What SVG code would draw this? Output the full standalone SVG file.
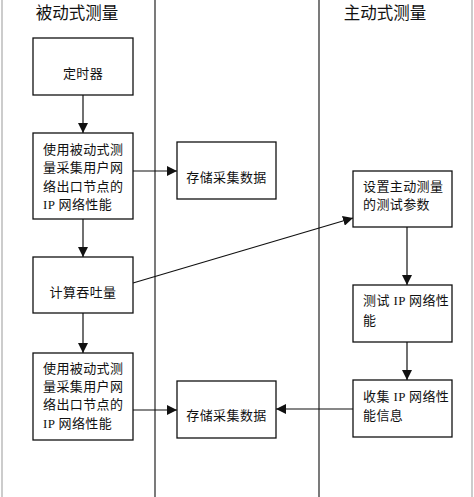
<svg xmlns="http://www.w3.org/2000/svg" width="474" height="497" viewBox="0 0 474 497">
<style>
.box{fill:#fff;stroke:#111;stroke-width:1.3}
.t{font-family:"Liberation Serif","Noto Sans CJK SC",serif;font-size:13px;fill:#111;letter-spacing:0.4px}
.h{font-family:"Noto Sans CJK SC",sans-serif;font-size:16.5px;fill:#111;text-anchor:middle}
.lane{stroke:#222;stroke-width:1.2}
.c{stroke:#111;stroke-width:1.2;fill:none;marker-end:url(#ah)}
</style>
<defs>
<marker id="ah" viewBox="0 0 10 10" refX="10" refY="5" markerWidth="10" markerHeight="10" markerUnits="userSpaceOnUse" orient="auto">
<path d="M0,0 L10,5 L0,10 z" fill="#111"/>
</marker>
</defs>
<rect width="474" height="497" fill="#fff"/>
<g id="frame">
<line x1="2" y1="0" x2="2" y2="497" stroke="#ccc" stroke-width="2"/>
<line x1="472" y1="0" x2="472" y2="497" stroke="#ccc" stroke-width="2"/>
<line class="lane" x1="155" y1="0" x2="155" y2="497"/>
<line class="lane" x1="319" y1="0" x2="319" y2="497"/>
</g>
<g id="headers">
<text class="h" x="77" y="19">被动式测量</text>
<text class="h" x="385" y="19">主动式测量</text>
</g>
<g id="connectors">
<line class="c" x1="83" y1="95" x2="83" y2="133"/>
<line class="c" x1="83" y1="219" x2="83" y2="257"/>
<line class="c" x1="83" y1="313" x2="83" y2="353"/>
<line class="c" x1="133" y1="171" x2="177" y2="171"/>
<line class="c" x1="133" y1="410" x2="177" y2="410"/>
<line class="c" x1="133" y1="283" x2="353" y2="218"/>
<line class="c" x1="407" y1="227" x2="407" y2="285"/>
<line class="c" x1="407" y1="342" x2="407" y2="380"/>
<line class="c" x1="353" y1="409" x2="276" y2="409"/>
</g>
<g id="timer">
<rect class="box" x="33" y="38" width="100" height="57"/>
<text class="t" x="83" y="78" text-anchor="middle">定时器</text>
</g>
<g id="passive1">
<rect class="box" x="33" y="133" width="100" height="86"/>
<text class="t" x="43" y="154">使用被动式测</text>
<text class="t" x="43" y="172">量采集用户网</text>
<text class="t" x="43" y="191">络出口节点的</text>
<text class="t" x="43" y="209">IP 网络性能</text>
</g>
<g id="store1">
<rect class="box" x="177" y="142" width="99" height="57"/>
<text class="t" x="226.5" y="182" text-anchor="middle">存储采集数据</text>
</g>
<g id="throughput">
<rect class="box" x="33" y="257" width="100" height="56"/>
<text class="t" x="83" y="297" text-anchor="middle">计算吞吐量</text>
</g>
<g id="passive2">
<rect class="box" x="33" y="353" width="100" height="87"/>
<text class="t" x="43" y="373">使用被动式测</text>
<text class="t" x="43" y="391">量采集用户网</text>
<text class="t" x="43" y="409">络出口节点的</text>
<text class="t" x="43" y="428">IP 网络性能</text>
</g>
<g id="store2">
<rect class="box" x="177" y="381" width="99" height="57"/>
<text class="t" x="226.5" y="420" text-anchor="middle">存储采集数据</text>
</g>
<g id="setparam">
<rect class="box" x="353" y="171" width="99" height="56"/>
<text class="t" x="363" y="191">设置主动测量</text>
<text class="t" x="363" y="209">的测试参数</text>
</g>
<g id="testip">
<rect class="box" x="353" y="285" width="99" height="57"/>
<text class="t" x="363" y="305">测试 IP 网络性</text>
<text class="t" x="363" y="325">能</text>
</g>
<g id="collect">
<rect class="box" x="353" y="380" width="99" height="57"/>
<text class="t" x="363" y="401">收集 IP 网络性</text>
<text class="t" x="363" y="420">能信息</text>
</g>
</svg>
